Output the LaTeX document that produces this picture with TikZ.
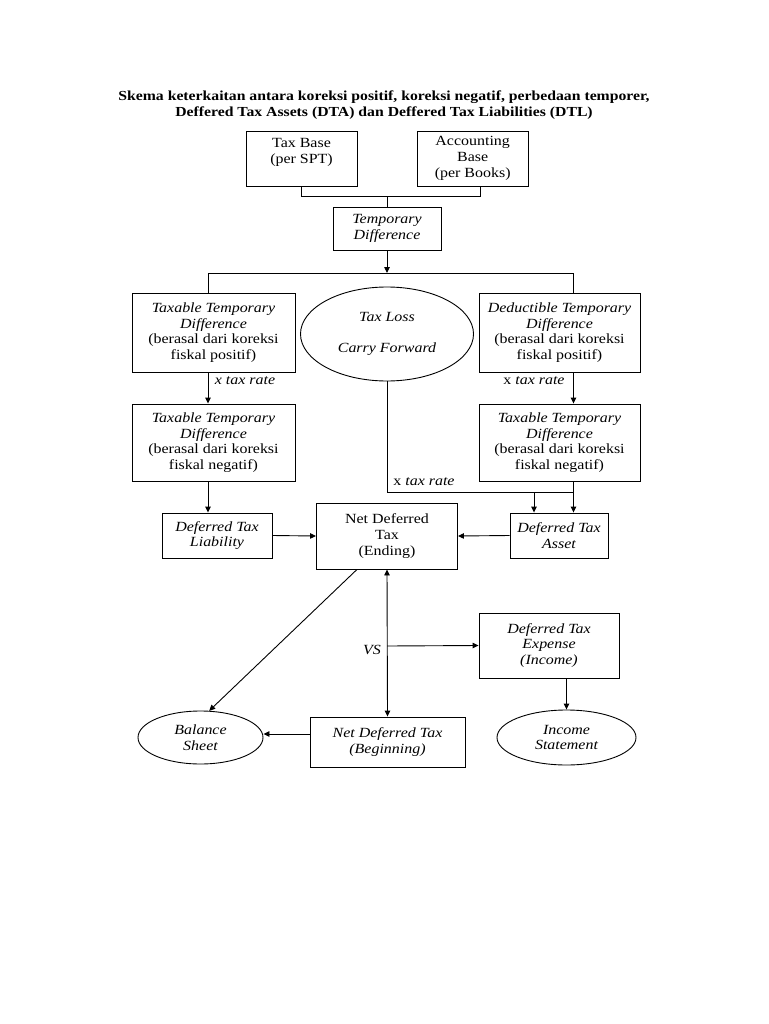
\documentclass[tikz,border=0pt]{standalone}
\usepackage{fontspec}
\setmainfont[FakeStretch=1.14]{Liberation Serif}
\usetikzlibrary{arrows.meta,shapes.geometric}
\begin{document}
\begin{tikzpicture}[x=1pt,y=-1pt,
  every node/.style={inner sep=0pt,align=center,font=\fontsize{14}{15.7}\selectfont},
  box/.style={draw,line width=0.9pt},
  ell/.style={draw,ellipse,line width=0.9pt},
  lbl/.style={font=\fontsize{14}{15.7}\selectfont},
  conn/.style={line width=0.9pt},
  arr/.style={line width=0.9pt,-{Triangle[length=6pt,width=5.5pt]}},
  darr/.style={line width=0.9pt,{Triangle[length=6pt,width=5.5pt]}-{Triangle[length=6pt,width=5.5pt]}}]
\useasboundingbox[fill=white] (0,0) rectangle (768,1024);
% title
\node[font=\bfseries\fontsize{13.8}{16}\selectfont] (title) at (384,105)
  {Skema keterkaitan antara koreksi positif, koreksi negatif, perbedaan temporer,\\
   Deffered Tax Assets (DTA) dan Deffered Tax Liabilities (DTL)};
% boxes
\node[box,minimum width=111pt,minimum height=55pt] (taxbase) at (301.5,158.5) {Tax Base\\(per SPT)\\\mbox{}};
\node[box,minimum width=111pt,minimum height=55pt] (acct) at (472.7,158.5) {Accounting\\Base\\(per Books)};
\node[box,minimum width=108pt,minimum height=43pt] (td) at (387,228.5) {\itshape Temporary\\\itshape Difference};
\node[box,minimum width=163pt,minimum height=79pt] (ttd1) at (213.5,332.5)
  {\itshape Taxable Temporary\\\itshape Difference\\(berasal dari koreksi\\fiskal positif)};
\node[ell,minimum width=173pt,minimum height=94pt] (taxloss) at (387,334)
  {\itshape Tax Loss\\[14.5pt]\itshape Carry Forward};
\node[box,minimum width=161pt,minimum height=79pt] (dtd) at (559.5,332.5)
  {\itshape Deductible Temporary\\\itshape Difference\\(berasal dari koreksi\\fiskal positif)};
\node[box,minimum width=163pt,minimum height=77pt] (ttd2) at (213.5,442.5)
  {\itshape Taxable Temporary\\\itshape Difference\\(berasal dari koreksi\\fiskal negatif)};
\node[box,minimum width=161pt,minimum height=77pt] (ttdr) at (559.5,442.5)
  {\itshape Taxable Temporary\\\itshape Difference\\(berasal dari koreksi\\fiskal negatif)};
\node[box,minimum width=110pt,minimum height=45pt] (dtl) at (217,535.5) {\itshape Deferred Tax\\\itshape Liability};
\node[box,minimum width=141pt,minimum height=66pt] (ndte) at (387,536) {Net Deferred\\Tax\\(Ending)};
\node[box,minimum width=98pt,minimum height=45pt] (dta) at (559,535.5) {\itshape Deferred Tax\\\itshape Asset};
\node[box,minimum width=140pt,minimum height=65pt] (dte) at (549,645.5) {\itshape Deferred Tax\\\itshape Expense\\\itshape (Income)};
\node[ell,minimum width=125pt,minimum height=53pt] (bs) at (200.5,737.5) {\itshape Balance\\\itshape Sheet};
\node[box,minimum width=155pt,minimum height=50pt] (ndtb) at (387.5,742) {\itshape Net Deferred Tax\\\itshape (Beginning)};
\node[ell,minimum width=139pt,minimum height=55pt] (is) at (566.5,737.5) {\itshape Income\\\itshape Statement};
% helper coordinates
\coordinate (ax) at (480.7,0);
\coordinate (j1) at (387,196.7);
\coordinate (j2) at (387,273);
\coordinate (hl) at (208,273);
\coordinate (hr) at (573.5,273);
\coordinate (tl) at (387,492);
\coordinate (tr) at (573.5,492);
\coordinate (tm) at (534,492);
\coordinate (dg) at (357,0);
\coordinate (vs) at (387,646);
\coordinate (ya) at (0,734);
% connectors
\draw[conn] (taxbase.south) |- (j1) -| (acct.south -| ax);
\draw[conn] (j1) -- (td.north);
\draw[arr] (td.south) -- (j2);
\draw[conn] (ttd1.north -| hl) -- (hl) -- (hr) -- (dtd.north -| hr);
\draw[arr] (ttd1.south -| hl) -- (ttd2.north -| hl);
\draw[arr] (dtd.south -| hr) -- (ttdr.north -| hr);
\draw[arr] (ttd2.south -| hl) -- (dtl.north -| hl);
\draw[conn] (taxloss.south) -- (tl) -- (tr);
\draw[arr] (tm) -- (dta.north -| tm);
\draw[arr] (ttdr.south -| hr) -- (dta.north -| hr);
\draw[arr] (dtl.east) -- (ndte.west);
\draw[arr] (dta.west) -- (ndte.east);
\draw[arr] (ndte.south -| dg) -- (bs.72);
\draw[darr] (ndte.south) -- (ndtb.north);
\draw[arr] (vs) -- (dte.west);
\draw[arr] (dte.south -| is.north) -- (is.north);
\draw[arr] (ndtb.west |- ya) -- (bs.east |- ya);
% labels
\node[lbl] (l1) at (245,381) {\itshape x tax rate};
\node[lbl] (l2) at (534,381) {x \itshape tax rate};
\node[lbl] (l3) at (424,482) {x \itshape tax rate};
\node[lbl] (l4) at (372,650) {\itshape VS};
\end{tikzpicture}
\end{document}
